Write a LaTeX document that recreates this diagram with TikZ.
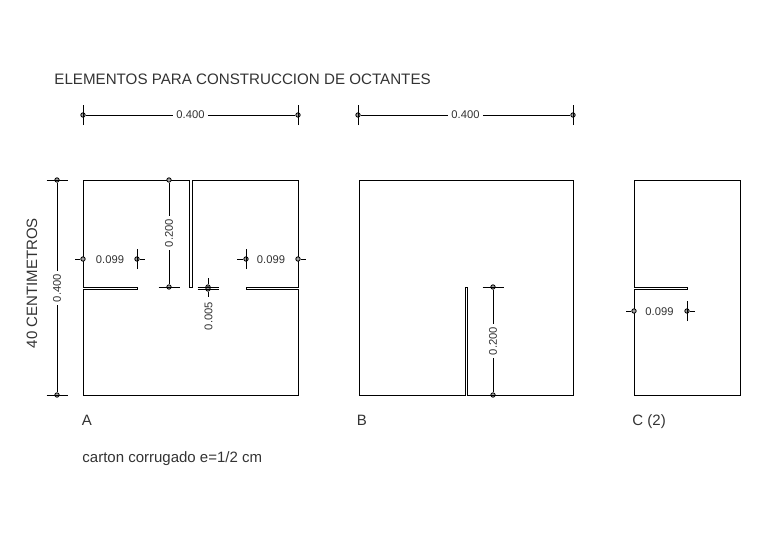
\documentclass[tikz,border=0pt]{standalone}
\usepackage{fontspec}
\setmainfont{Liberation Sans}

\begin{document}
\begin{tikzpicture}[x=1pt,y=-1pt,line width=0.9pt]
  \tikzset{dot/.style={circle,draw,fill=black!35,inner sep=0pt,minimum size=4.4pt,line width=0.8pt},
    dimtext/.style={font=\fontsize{11.2}{12}\selectfont,text=black!80,inner sep=3pt},
    labeltext/.style={font=\fontsize{15}{16}\selectfont,text=black!80,inner sep=0pt,anchor=base west}}
  \useasboundingbox (0,0) rectangle (768,543);
  % sheets
  \draw (83,180) -- (189.5,180) -- (189.5,287.5) -- (192.5,287.5) -- (192.5,180) -- (298,180) -- (298,287)
    -- (246,287) -- (246,289) -- (298,289) -- (298,395) -- (83,395) -- (83,289) -- (137,289) -- (137,287)
    -- (83,287) -- cycle;
  \draw (359,180) -- (573,180) -- (573,395) -- (467.5,395) -- (467.5,287) -- (465,287) -- (465,395) -- (359,395) -- cycle;
  \draw (634,180) -- (740,180) -- (740,395) -- (634,395) -- (634,289) -- (687,289) -- (687,287) -- (634,287) -- cycle;
  % dots
  \foreach \name/\x/\y in {topAl/83/115,topAr/298/115,topBl/358/115,topBr/573/115,
      leftAt/57/180,leftAb/57/395,midAt/169/180,midAb/169/287,
      holAl/83/259,holAr/137/259,horAl/246/259,horAr/298/259,
      thinAt/208/287,thinAb/208/289,midBt/493/287,midBb/493/395,
      hoCl/634/311,hoCr/687/311}
    \node[dot] (\name) at (\x,\y) {};
  % dimension texts
  \node[dimtext] (topAtext) at (190.5,115) {0.400};
  \node[dimtext] (topBtext) at (465.5,115) {0.400};
  \node[dimtext,rotate=90] (leftAtext) at (57,288) {0.400};
  \node[dimtext,rotate=90] (midAtext) at (169,233) {0.200};
  \node[dimtext,rotate=90] (midBtext) at (493,341) {0.200};
  \node[dimtext] (holAtext) at (110,259.5) {0.099};
  \node[dimtext] (horAtext) at (271,259.5) {0.099};
  \node[dimtext] (hoCtext) at (659.5,312) {0.099};
  \node[dimtext,rotate=90] (thinAtext) at (208.5,316) {0.005};
  % dimension lines
  \foreach \a/\b in {topAl/topAtext,topAtext/topAr,topBl/topBtext,topBtext/topBr,leftAt/leftAtext,leftAtext/leftAb,
      midAt/midAtext,midAtext/midAb,midBt/midBtext,midBtext/midBb}
    \draw (\a) -- (\b);
  \draw (thinAt) -- ++(0,-9);
  \draw (thinAb) -- ++(0,8);
  \draw (holAl) -- ++(-8,0);
  \draw (holAr) -- ++(8,0);
  \draw (horAl) -- ++(-9,0);
  \draw (horAr) -- ++(8,0);
  \draw (hoCl) -- ++(-8,0);
  \draw (hoCr) -- ++(8,0);
  % ticks
  \foreach \name in {topAl,topAr,topBl,topBr,holAr,horAl,hoCr}
    \draw ([yshift=-10pt]\name.center) -- ([yshift=10pt]\name.center);
  \foreach \name in {leftAt,leftAb,midAb,thinAt,thinAb,midBt,midBb}
    \draw ([xshift=-10.5pt]\name.center) -- ([xshift=10.5pt]\name.center);
  % labels
  \node[labeltext,font=\fontsize{15.15}{16}\selectfont] (title) at (54,84.5) {ELEMENTOS PARA CONSTRUCCION DE OCTANTES};
  \node[labeltext] (sheetA) at (81.5,425) {A};
  \node[labeltext] (sheetB) at (356.5,425) {B};
  \node[labeltext] (sheetC) at (632,425) {C (2)};
  \node[labeltext] (material) at (82,462) {carton corrugado e=1/2 cm};
  \node[font=\fontsize{15}{16}\selectfont,text=black!80,inner sep=0pt,rotate=90] (height) at (32,283) {40 CENTIMETROS};
\end{tikzpicture}
\end{document}
